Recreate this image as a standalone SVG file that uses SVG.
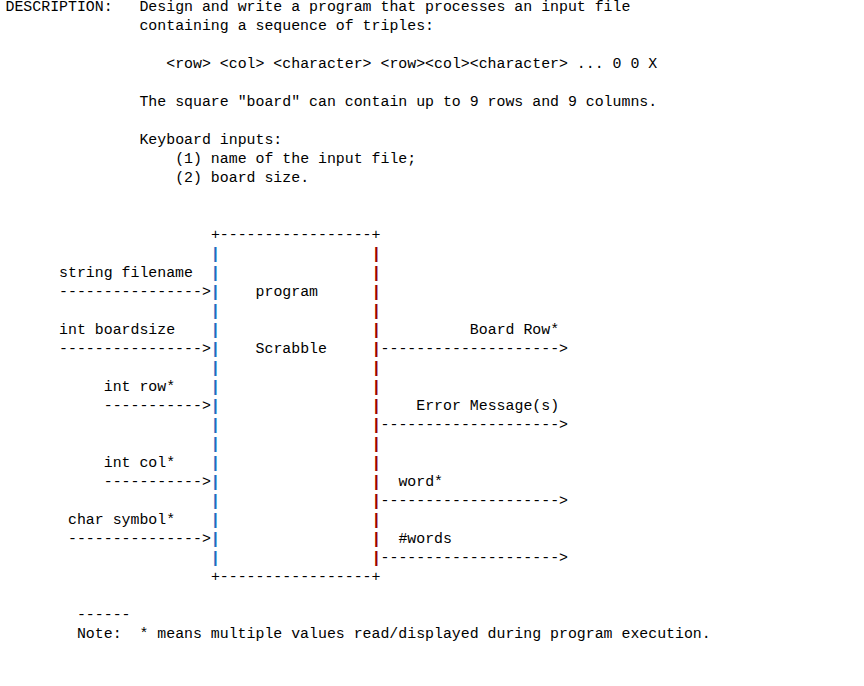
<svg xmlns="http://www.w3.org/2000/svg" width="864" height="686" viewBox="0 0 864 686">
<style>
text{font-family:"Liberation Mono","DejaVu Sans Mono",monospace;font-size:14.88px;fill:#000;white-space:pre}
.lb,.rb{font-size:17px;font-weight:bold}
.lb{fill:#1f6cc0}
.rb{fill:#9a0000}
</style>
<rect width="864" height="686" fill="#fff"/>
<g id="description">
<text x="5.5" y="11">DESCRIPTION:</text>
<text x="139.45" y="11">Design and write a program that processes an input file</text>
<text x="139.45" y="30">containing a sequence of triples:</text>
<text x="166.24" y="68">&lt;row&gt; &lt;col&gt; &lt;character&gt; &lt;row&gt;&lt;col&gt;&lt;character&gt; ... 0 0 X</text>
<text x="139.45" y="106">The square "board" can contain up to 9 rows and 9 columns.</text>
<text x="139.45" y="144">Keyboard inputs:</text>
<text x="175.17" y="163">(1) name of the input file;</text>
<text x="175.17" y="182">(2) board size.</text>
</g>
<g id="program">
<text x="210.89" y="239">+-----------------+</text>
<text x="210.89" y="581">+-----------------+</text>
<text class="lb" x="210.3" y="259">|<tspan x="210.3" dy="19">|</tspan><tspan x="210.3" dy="19">|</tspan><tspan x="210.3" dy="19">|</tspan><tspan x="210.3" dy="19">|</tspan><tspan x="210.3" dy="19">|</tspan><tspan x="210.3" dy="19">|</tspan><tspan x="210.3" dy="19">|</tspan><tspan x="210.3" dy="19">|</tspan><tspan x="210.3" dy="19">|</tspan><tspan x="210.3" dy="19">|</tspan><tspan x="210.3" dy="19">|</tspan><tspan x="210.3" dy="19">|</tspan><tspan x="210.3" dy="19">|</tspan><tspan x="210.3" dy="19">|</tspan><tspan x="210.3" dy="19">|</tspan><tspan x="210.3" dy="19">|</tspan></text>
<text class="rb" x="371.3" y="259">|<tspan x="371.3" dy="19">|</tspan><tspan x="371.3" dy="19">|</tspan><tspan x="371.3" dy="19">|</tspan><tspan x="371.3" dy="19">|</tspan><tspan x="371.3" dy="19">|</tspan><tspan x="371.3" dy="19">|</tspan><tspan x="371.3" dy="19">|</tspan><tspan x="371.3" dy="19">|</tspan><tspan x="371.3" dy="19">|</tspan><tspan x="371.3" dy="19">|</tspan><tspan x="371.3" dy="19">|</tspan><tspan x="371.3" dy="19">|</tspan><tspan x="371.3" dy="19">|</tspan><tspan x="371.3" dy="19">|</tspan><tspan x="371.3" dy="19">|</tspan><tspan x="371.3" dy="19">|</tspan></text>
<text x="255.54" y="296">program</text>
<text x="255.54" y="353">Scrabble</text>
</g>
<g id="in-filename"><text x="59.08" y="277">string filename</text></g>
<g id="in-boardsize"><text x="59.08" y="334">int boardsize</text></g>
<g id="in-row"><text x="103.73" y="391">int row*</text></g>
<g id="in-col"><text x="103.73" y="467">int col*</text></g>
<g id="in-symbol"><text x="68.01" y="524">char symbol*</text></g>
<g id="out-boardrow"><text x="469.86" y="334">Board Row*</text></g>
<g id="out-error"><text x="416.28" y="410">Error Message(s)</text></g>
<g id="out-word"><text x="398.42" y="486">word*</text></g>
<g id="out-words"><text x="398.42" y="543">#words</text></g>
<g id="connectors">
<text x="59.08" y="296">----------------&gt;</text>
<text x="59.08" y="353">----------------&gt;</text>
<text x="103.73" y="410">-----------&gt;</text>
<text x="103.73" y="486">-----------&gt;</text>
<text x="68.01" y="543">---------------&gt;</text>
<text x="380.56" y="353">--------------------&gt;</text>
<text x="380.56" y="429">--------------------&gt;</text>
<text x="380.56" y="505">--------------------&gt;</text>
<text x="380.56" y="562">--------------------&gt;</text>
</g>
<g id="note">
<text x="76.94" y="619">------</text>
<text x="76.94" y="638">Note:  * means multiple values read/displayed during program execution.</text>
</g>
</svg>
